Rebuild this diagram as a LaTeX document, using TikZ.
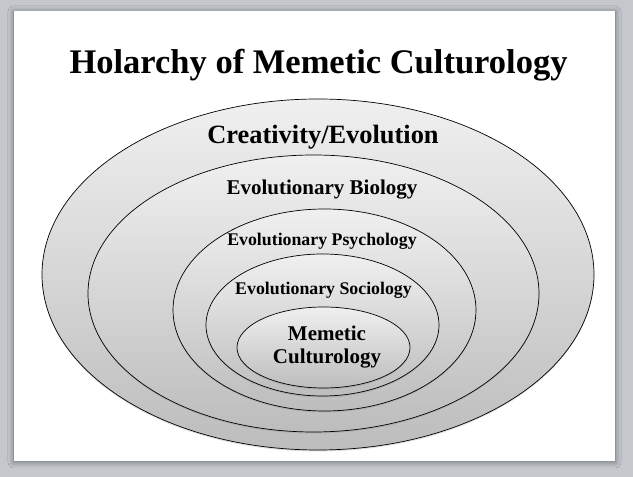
\documentclass[tikz,border=0pt]{standalone}
\usepackage{fontspec}
\setmainfont{Liberation Serif}
\usetikzlibrary{positioning}
\usetikzlibrary{shapes.geometric, shadows, shadows.blur}

\definecolor{deskgray}{HTML}{C4C8CD}

\begin{document}
\begin{tikzpicture}[x=1pt, y=1pt,
		holon/.style={draw, ellipse, inner sep=0pt, line width=0.7pt, top color=black!6, bottom color=black!26, drop shadow={shadow xshift=0pt, shadow yshift=-1.5pt, opacity=0.25}},
		holontext/.style={inner sep=0pt, anchor=base}]

		% Desk and slide
		\fill[deskgray] (0, 0) rectangle (633, 477);
		\useasboundingbox (0, 0) rectangle (633, 477);
		\node (slide) at (314.5, 241) [fill=white, inner sep=0pt, minimum width=601pt, minimum height=450pt, blur shadow={shadow xshift=0pt, shadow yshift=-1pt, shadow blur radius=6pt, shadow blur steps=8, shadow opacity=45}] {};

		% Title
		\node (title) at (318.5, 403) [holontext, font=\fontsize{34.5}{40}\selectfont\bfseries] {Holarchy of Memetic Culturology};

		% Holons, outermost first
		\begin{scope}
			\node (cre) at (318, 202.5) [holon, minimum width=552pt, minimum height=351pt] {};
			\node (bio) at (313.5, 183.5) [holon, minimum width=451pt, minimum height=277pt] {};
			\node (psy) at (324.5, 167) [holon, minimum width=303pt, minimum height=202pt] {};
			\node (soc) at (322.5, 152) [holon, minimum width=233pt, minimum height=142pt] {};
			\node (mem) at (323.5, 129.5) [holon, minimum width=173pt, minimum height=81pt] {};
		\end{scope}

		% Holon names
		\begin{scope}
			\node (cre_title) at (cre.north) [holontext, xshift=5pt, yshift=-45pt, font=\fontsize{26.4}{30}\selectfont\bfseries] {Creativity/Evolution};
			\node (bio_title) at (bio.north) [holontext, xshift=8.5pt, yshift=-40pt, font=\fontsize{21}{24}\selectfont\bfseries] {Evolutionary Biology};
			\node (psy_title) at (psy.north) [holontext, xshift=-2.5pt, yshift=-37pt, font=\fontsize{17.8}{21}\selectfont\bfseries] {Evolutionary Psychology};
			\node (soc_title) at (soc.north) [holontext, xshift=1pt, yshift=-41pt, font=\fontsize{17.8}{21}\selectfont\bfseries] {Evolutionary Sociology};
			\node (mem_title) at (mem) [inner sep=0pt, align=center, xshift=3.5pt, font=\fontsize{21}{23}\selectfont\bfseries] {Memetic\\Culturology};
		\end{scope}

	\end{tikzpicture}
\end{document}
